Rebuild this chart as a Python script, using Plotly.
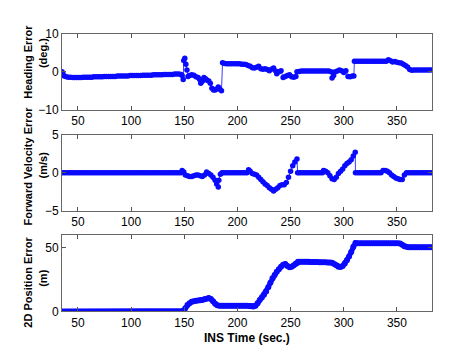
import plotly.graph_objects as go

# ---------------- data ----------------
heading_t = [35, 36, 37, 39, 41, 43, 45, 47, 49, 51, 53, 55, 57, 59, 61, 63, 65, 67, 69, 71, 73, 75, 77, 79, 81, 83, 85,
             87, 89, 91, 93, 95, 97, 99, 101, 103, 105, 107, 109, 111, 113, 115, 117, 119, 121, 123, 125, 127, 129,
             131, 133, 135, 137, 139, 141, 143, 145, 147, 148, 149, 149.5, 150.5, 151.5, 152.5, 153.5, 155, 157, 159,
             161, 163, 164.5, 165.5, 167, 168.5, 170, 171.5, 173, 174.5, 176, 177.5, 179, 180.5, 182, 183.5, 185,
             186, 188, 190, 192, 194, 196, 198, 200, 202, 204, 206, 208, 210, 212, 214, 216, 218, 220, 222, 224,
             226, 228, 230, 232, 234, 236, 237, 239, 241, 243, 245, 247, 249, 251, 253, 255, 256, 258, 260, 262,
             264, 266, 268, 270, 272, 274, 276, 278, 280, 282, 284, 286, 288, 289, 290.5, 292, 294, 296, 298, 300,
             302, 304, 306, 308, 309.5, 310, 312, 314, 316, 318, 320, 322, 324, 326, 328, 330, 332, 334, 336, 338,
             340, 342, 344, 346, 348, 350, 352, 354, 356, 358, 360, 362, 364, 366, 368, 370, 372, 374, 376, 378,
             380, 382]
heading_v = [0.0, -0.6, -1.1, -1.3, -1.4, -1.4, -1.5, -1.5, -1.5, -1.5, -1.5, -1.4, -1.4, -1.4, -1.4, -1.4, -1.3, -1.3,
             -1.3, -1.3, -1.3, -1.2, -1.2, -1.2, -1.2, -1.2, -1.2, -1.1, -1.1, -1.1, -1.1, -1.1, -1.1, -1.0, -1.0,
             -1.0, -1.0, -1.0, -1.0, -0.9, -0.9, -0.9, -0.9, -0.9, -0.8, -0.8, -0.8, -0.8, -0.8, -0.7, -0.7, -0.7,
             -0.7, -0.7, -0.6, -0.6, -0.6, -0.7, -1.0, -2.0, 3.0, 3.6, 2.0, 0.5, -1.2, -1.0, -0.8, -0.9, -1.3, -1.5,
             -2.0, -3.0, -2.5, -1.5, -1.8, -2.2, -2.4, -3.0, -4.3, -4.8, -4.8, -4.5, -4.0, -4.6, -5.0,
             2.4, 2.2, 2.1, 2.1, 2.1, 2.1, 2.1, 2.1, 2.1, 2.0, 2.0, 1.9, 1.7, 1.5, 1.1, 1.0, 1.2, 1.5, 0.8, 0.7,
             0.8, 0.6, 0.3, 0.7, 1.0, 0.2, -0.5, 0.0, 0.3, -1.5, -1.2, -1.0, -0.8, -1.3, -1.4, -1.2, 0.0, 0.1, 0.2,
             0.2, 0.2, 0.2, 0.2, 0.2, 0.2, 0.2, 0.2, 0.2, 0.2, 0.2, 0.2, 0.2, 0.0, -1.6, -1.0, 0.0, 0.2, 0.5, 0.3,
             -0.2, 0.3, -1.2, -1.3, -1.1, -1.1, 2.8, 2.8, 2.8, 2.8, 2.8, 2.8, 2.8, 2.8, 2.8, 2.8, 2.8, 2.8, 2.8,
             2.8, 2.8, 2.8, 3.2, 2.9, 2.6, 2.7, 2.5, 2.4, 2.3, 2.0, 1.7, 1.3, 0.6, 0.4, 0.5, 0.5, 0.5, 0.5, 0.5,
             0.5, 0.5, 0.5, 0.5, 0.5]

velocity_t = [35, 37, 39, 41, 43, 45, 47, 49, 51, 53, 55, 57, 59, 61, 63, 65, 67, 69, 71, 73, 75, 77, 79, 81, 83, 85,
              87, 89, 91, 93, 95, 97, 99, 101, 103, 105, 107, 109, 111, 113, 115, 117, 119, 121, 123, 125, 127, 129,
              131, 133, 135, 137, 139, 141, 143, 145, 147, 148, 149.5, 151, 153, 155, 157, 159, 161, 163, 165, 167,
              169, 171, 173, 175, 177, 179, 180.5, 182, 182.5, 184, 185.5, 187, 189, 191, 193, 195, 197, 199, 201,
              203, 205, 207, 209, 210.5, 212, 214, 216, 218, 220, 222, 224, 226, 228, 230, 232, 234, 236, 238, 240,
              242, 244, 246, 248, 250, 252, 254, 256, 256.6, 258, 260, 262, 264, 266, 268, 270, 272, 274, 276, 278,
              280, 281, 283, 285, 287, 289, 291, 293, 295, 297, 299, 301, 303, 305, 307, 309, 310.8, 311, 313, 315,
              317, 319, 321, 323, 325, 327, 329, 331, 333, 335, 337, 339, 341, 343, 345, 347, 349, 351, 353, 355,
              357, 359, 361, 363, 365, 367, 369, 371, 373, 375, 377, 379, 381, 383]
velocity_v = [0.0, 0.0, 0.0, 0.0, 0.0, 0.0, 0.0, 0.0, 0.0, 0.0, 0.0, 0.0, 0.0, 0.0, 0.0, 0.0, 0.0, 0.0, 0.0, 0.0, 0.0,
              0.0, 0.0, 0.0, 0.0, 0.0, 0.0, 0.0, 0.0, 0.0, 0.0, 0.0, 0.0, 0.0, 0.0, 0.0, 0.0, 0.0, 0.0, 0.0, 0.0,
              0.0, 0.0, 0.0, 0.0, 0.0, 0.0, 0.0, 0.0, 0.0, 0.0, 0.0, 0.0, 0.0, 0.0, 0.0, 0.0, 0.3, 0.1, -0.3, -0.4,
              -0.5, -0.5, -0.4, -0.3, -0.3, -0.4, -0.5, -0.3, 0.1, -0.1, -0.3, -0.6, -1.0, -1.5, -1.9, -1.0, -0.2,
              0.0, 0.0, 0.0, 0.0, 0.0, 0.0, 0.0, 0.0, 0.0, 0.0, 0.0, 0.0, 0.0, 0.4, 0.2, -0.1, -0.2, -0.3, -0.6,
              -0.9, -1.2, -1.5, -1.7, -2.0, -2.2, -2.4, -2.2, -2.0, -1.7, -1.6, -1.6, -1.3, -0.6, 0.2, 0.9, 1.4,
              1.8, 0.0, 0.0, 0.0, 0.0, 0.0, 0.0, 0.0, 0.0, 0.0, 0.0, 0.0, 0.0, 0.0, 0.3, 0.2, 0.0, -0.4, -0.8, -0.9,
              -0.6, -0.1, 0.2, 0.5, 0.9, 1.2, 1.4, 1.7, 2.2, 2.7, 0.0, 0.0, 0.0, 0.0, 0.0, 0.0, 0.0, 0.0, 0.0, 0.0,
              0.0, 0.0, 0.0, 0.3, 0.3, 0.2, 0.0, -0.3, -0.5, -0.7, -0.8, -0.9, -0.9, -0.3, 0.0, 0.0, 0.0, 0.0, 0.0,
              0.0, 0.0, 0.0, 0.0, 0.0, 0.0, 0.0, 0.0, 0.0]

position_t = [35, 37, 39, 41, 43, 45, 47, 49, 51, 53, 55, 57, 59, 61, 63, 65, 67, 69, 71, 73, 75, 77, 79, 81, 83, 85,
              87, 89, 91, 93, 95, 97, 99, 101, 103, 105, 107, 109, 111, 113, 115, 117, 119, 121, 123, 125, 127, 129,
              131, 133, 135, 137, 139, 141, 143, 145, 147, 149, 151, 153, 155, 157, 159, 161, 163, 165, 167, 169,
              171, 173, 175, 177, 179, 181, 183, 185, 187, 189, 191, 193, 195, 197, 199, 201, 203, 205, 207, 209,
              211, 213, 215, 217, 219, 221, 223, 225, 227, 229, 231, 233, 235, 237, 239, 241, 243, 245, 247, 249,
              251, 253, 255, 257, 259, 261, 263, 265, 267, 269, 271, 273, 275, 277, 279, 281, 283, 285, 287, 289,
              291, 293, 295, 297, 299, 301, 303, 305, 307, 309, 311, 313, 315, 317, 319, 321, 323, 325, 327, 329,
              331, 333, 335, 337, 339, 341, 343, 345, 347, 349, 351, 353, 355, 357, 359, 361, 363, 365, 367, 369,
              371, 373, 375, 377, 379, 381, 383]
position_v = [0.0, 0.0, 0.0, 0.0, 0.0, 0.0, 0.0, 0.0, 0.0, 0.0, 0.0, 0.0, 0.0, 0.0, 0.0, 0.0, 0.0, 0.0, 0.0, 0.0, 0.0,
              0.0, 0.0, 0.0, 0.0, 0.0, 0.0, 0.0, 0.0, 0.0, 0.0, 0.0, 0.0, 0.0, 0.0, 0.0, 0.0, 0.0, 0.0, 0.0, 0.0,
              0.0, 0.0, 0.0, 0.0, 0.0, 0.0, 0.0, 0.0, 0.0, 0.0, 0.0, 0.0, 0.0, 0.0, 0.0, 0.0, 0.5, 2.5, 5.0, 6.5,
              7.5, 8.0, 8.3, 8.5, 8.8, 9.0, 9.5, 10.0, 10.5, 9.8, 8.0, 6.0, 4.8, 4.5, 4.5, 4.5, 4.5, 4.5, 4.5, 4.5,
              4.5, 4.5, 4.5, 4.5, 4.5, 4.5, 4.5, 4.3, 4.0, 3.8, 4.5, 6.5, 9.0, 11.0, 13.0, 15.5, 19.0, 22.5, 26.0,
              28.5, 31.0, 33.0, 35.0, 36.5, 37.0, 35.5, 34.5, 35.0, 36.0, 37.5, 38.8, 38.8, 38.8, 38.8, 38.8, 38.8,
              38.7, 38.7, 38.6, 38.6, 38.5, 38.5, 38.4, 38.4, 38.3, 38.3, 38.0, 37.0, 36.0, 35.0, 34.8, 35.5, 37.5,
              40.0, 43.0, 46.5, 50.5, 53.5, 53.3, 53.3, 53.3, 53.3, 53.3, 53.3, 53.3, 53.3, 53.3, 53.3, 53.3, 53.3,
              53.3, 53.3, 53.3, 53.3, 53.3, 53.3, 53.3, 53.3, 53.0, 52.0, 51.0, 50.5, 50.2, 50.2, 50.2, 50.2, 50.2,
              50.2, 50.2, 50.2, 50.2, 50.2, 50.2, 50.2]

x_ticks = [50, 100, 150, 200, 250, 300, 350]
heading_ticks = [-10, 0, 10]
velocity_ticks = [-5, 0, 5]
position_ticks = [0, 50]

# ---------------- figure ----------------
W, H = 474, 354
BLUE = "#0a0aff"
FONT = "Liberation Sans"

def py(p):  # pixel from top -> paper fraction
    return 1 - p / H

fig = go.Figure()
fig.add_trace(go.Scatter(x=heading_t, y=heading_v, mode="lines+markers",
                         line=dict(color=BLUE, width=0.8), marker=dict(color=BLUE, size=5.5),
                         xaxis="x", yaxis="y", showlegend=False))
fig.add_trace(go.Scatter(x=velocity_t, y=velocity_v, mode="lines+markers",
                         line=dict(color=BLUE, width=0.8), marker=dict(color=BLUE, size=5.5),
                         xaxis="x2", yaxis="y2", showlegend=False))
fig.add_trace(go.Scatter(x=position_t, y=position_v, mode="lines+markers",
                         line=dict(color=BLUE, width=5), marker=dict(color=BLUE, size=6),
                         xaxis="x3", yaxis="y3", showlegend=False))

tickfont = dict(family=FONT, size=12, color="black")
xd = [62 / W, 432 / W]
common_x = dict(range=[35, 383], tickvals=x_ticks, ticks="inside", ticklen=4, tickcolor="#555",
                showline=True, linecolor="#666", linewidth=1, mirror="ticks", showgrid=False,
                zeroline=False, tickfont=tickfont, domain=xd)
common_y = dict(ticks="inside", ticklen=4, tickcolor="#555", showline=True, linecolor="#666",
                linewidth=1, mirror="ticks", showgrid=False, zeroline=False, tickfont=tickfont)

fig.update_layout(
    width=W, height=H, margin=dict(l=0, r=0, t=0, b=0),
    paper_bgcolor="white", plot_bgcolor="white",
    font=dict(family=FONT, color="black"),
    xaxis=dict(**common_x, anchor="y"),
    xaxis2=dict(**common_x, anchor="y2"),
    xaxis3=dict(**common_x, anchor="y3"),
    yaxis=dict(**common_y, range=[-10, 10], tickvals=heading_ticks, domain=[py(107), py(28)], anchor="x"),
    yaxis2=dict(**common_y, range=[-5, 5], tickvals=velocity_ticks, domain=[py(212), py(133)], anchor="x2"),
    yaxis3=dict(**common_y, range=[0, 60], tickvals=position_ticks, domain=[py(317), py(237)], anchor="x3"),
)

lab = dict(family=FONT, size=11, color="black")
ylabels = [("<b>Heading Error</b>", 28, 57), ("<b>(deg.)</b>", 43, 48),
           ("<b>Forward Velocity Error</b>", 28, 166), ("<b>(m/s)</b>", 43, 165),
           ("<b>2D Position Error</b>", 28, 287), ("<b>(m)</b>", 43, 283)]
for txt, px, pyy in ylabels:
    fig.add_annotation(text=txt, x=px / W, y=py(pyy), xref="paper", yref="paper",
                       textangle=-90, showarrow=False, font=lab, xanchor="center", yanchor="middle")
fig.add_annotation(text="<b>INS Time (sec.)</b>", x=247 / W, y=py(345), xref="paper", yref="paper",
                   showarrow=False, font=dict(family=FONT, size=12, color="black"),
                   xanchor="center", yanchor="middle")

fig.update_xaxes(tickprefix="<b>", ticksuffix="</b>")
fig.update_yaxes(tickprefix="<b>", ticksuffix="</b>")

fig.write_html("out.html")
